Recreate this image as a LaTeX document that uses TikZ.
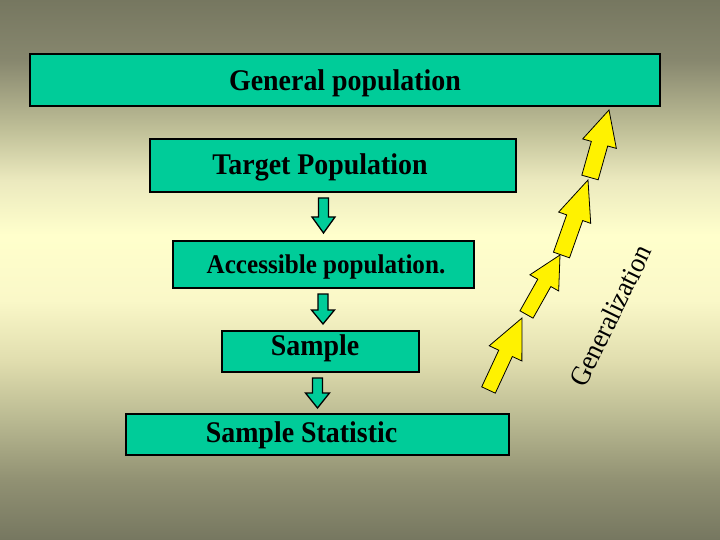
\documentclass[tikz,border=0pt]{standalone}
\usepackage{fontspec}
\setmainfont{Liberation Serif}[FakeStretch=0.93]
\usetikzlibrary{calc}
\definecolor{tealfill}{RGB}{0,204,153}
\definecolor{bgA}{RGB}{118,119,96}
\definecolor{bgB}{RGB}{135,135,110}
\definecolor{bgC}{RGB}{192,192,152}
\definecolor{bgD}{RGB}{235,233,190}
\definecolor{bgE}{RGB}{255,255,204}
\definecolor{bgF}{RGB}{250,248,200}
\definecolor{bgG}{RGB}{225,222,175}
\definecolor{bgH}{RGB}{185,185,145}
\definecolor{bgI}{RGB}{145,145,115}
\pgfdeclareverticalshading{bgshade}{100bp}{color(0bp)=(bgA); color(25bp)=(bgA); color(30.56bp)=(bgI); color(36.11bp)=(bgH); color(41.67bp)=(bgG); color(47.22bp)=(bgF); color(53.24bp)=(bgE); color(58.33bp)=(bgD); color(62.96bp)=(bgC); color(69.44bp)=(bgB); color(75bp)=(bgA); color(100bp)=(bgA)}
% #1 style, #2 tail, #3 tip, #4 shaft half width, #5 head half width, #6 head length
\newcommand\drawblockarrow[6]{%
  \path ($(#3)!#6!(#2)$) coordinate (ba-h);
  \draw[#1] ($(#2)!#4!90:(#3)$) -- ($(ba-h)!#4!-90:(#2)$) -- ($(ba-h)!#5!-90:(#2)$) -- (#3)
    -- ($(ba-h)!#5!90:(#2)$) -- ($(ba-h)!#4!90:(#2)$) -- ($(#2)!#4!-90:(#3)$) -- cycle;
}
\tikzset{
  boxst/.style={draw=black, line width=2.2pt, fill=tealfill, inner sep=0pt, text depth=0pt,
    font=\fontsize{30}{32}\selectfont\bfseries},
  downarr/.style={draw=black, line width=1.3pt, fill=tealfill, line join=miter},
  uparr/.style={draw=black, line width=0.8pt, fill=yellow, line join=miter},
}
\begin{document}
\begin{tikzpicture}[x=1pt,y=1pt]
\path[shading=bgshade] (0,0) rectangle (720,-540);
\useasboundingbox (0,0) rectangle (720,-540);

\node[boxst, minimum width=630pt, minimum height=52pt, text height=22pt] (general) at (345,-80) {General population};
\node[boxst, minimum width=366pt, minimum height=53pt, text height=19pt] (target) at (333,-165.5) {Target Population\hspace*{26pt}};
\node[boxst, minimum width=301pt, minimum height=47pt, text height=17.6pt, font=\fontsize{27}{29}\selectfont\bfseries] (access) at (323.5,-264.5) {\hspace*{5pt}Accessible population.};
\node[boxst, minimum width=197pt, minimum height=41pt, text height=8pt] (sample) at (320.5,-351.5) {Sample\hspace*{11pt}};
\node[boxst, minimum width=383pt, minimum height=41pt, text height=15.6pt] (stat) at (317.5,-434.5) {Sample Statistic\hspace*{32pt}};

% teal down arrows
\coordinate (d1a) at (323.5,-198); \coordinate (d1b) at (323.5,-233);
\coordinate (d2a) at (323,-294);   \coordinate (d2b) at (323,-324);
\coordinate (d3a) at (317.5,-378); \coordinate (d3b) at (317.5,-408);
\drawblockarrow{downarr}{d1a}{d1b}{5pt}{11.5pt}{16pt}
\drawblockarrow{downarr}{d2a}{d2b}{5pt}{11.5pt}{14pt}
\drawblockarrow{downarr}{d3a}{d3b}{5pt}{12pt}{15pt}

% yellow generalization arrows
\coordinate (g1a) at (488.5,-390); \coordinate (g1b) at (522,-318);
\coordinate (g2a) at (526.5,-314.5); \coordinate (g2b) at (560,-255);
\coordinate (g3a) at (561.5,-255); \coordinate (g3b) at (588,-180);
\coordinate (g4a) at (590,-177.5); \coordinate (g4b) at (609,-110);
\drawblockarrow{uparr}{g1a}{g1b}{7.5pt}{18pt}{39pt}
\drawblockarrow{uparr}{g2a}{g2b}{7.5pt}{16.5pt}{32pt}
\drawblockarrow{uparr}{g3a}{g3b}{8.5pt}{17pt}{40pt}
\drawblockarrow{uparr}{g4a}{g4b}{8.5pt}{17.5pt}{35pt}

\node[font=\fontsize{28}{30}\selectfont, rotate=64, anchor=base, inner sep=0pt] (gen) at (619,-320) {Generalization};
\end{tikzpicture}
\end{document}
